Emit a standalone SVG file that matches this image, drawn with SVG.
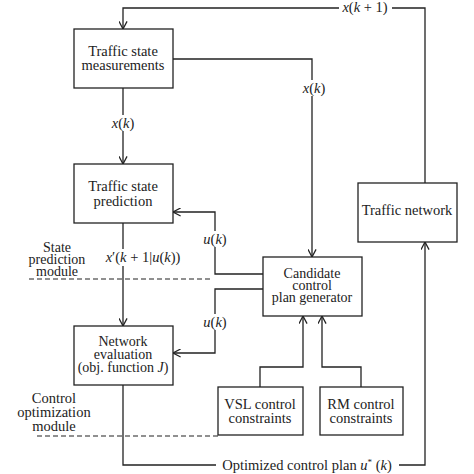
<svg xmlns="http://www.w3.org/2000/svg" width="474" height="474" viewBox="0 0 474 474">
<style>
.box{fill:#fff;stroke:#222;stroke-width:1.3}
.ln{fill:none;stroke:#222;stroke-width:1.3}
.dash{fill:none;stroke:#222;stroke-width:1.2;stroke-dasharray:5,3}
text{font-family:"Liberation Serif","Times New Roman",serif;font-size:14.5px;fill:#222;text-anchor:middle}
.t{font-size:14px}
.i{font-style:italic}
.lbl{fill:#fff}
</style>
<defs>
<marker id="ah" viewBox="0 0 10 10" refX="9.5" refY="5" markerWidth="9" markerHeight="9" markerUnits="userSpaceOnUse" orient="auto">
<path d="M1,0.5 L9.5,5 L1,9.5" fill="none" stroke="#222" stroke-width="1.4"/>
</marker>
</defs>
<rect width="474" height="474" fill="#fff"/>
<g id="connectors">
<path class="ln" d="M425,183 V8 H123 V29" marker-end="url(#ah)"/>
<path class="ln" d="M173,59 H312 V257" marker-end="url(#ah)"/>
<path class="ln" d="M123,88 V164" marker-end="url(#ah)"/>
<path class="ln" d="M123,223 V326" marker-end="url(#ah)"/>
<path class="ln" d="M263,274 H215 V212 H173" marker-end="url(#ah)"/>
<path class="ln" d="M263,289 H215 V353 H173" marker-end="url(#ah)"/>
<path class="ln" d="M260,387 V367 H303 V316" marker-end="url(#ah)"/>
<path class="ln" d="M361,387 V367 H322 V316" marker-end="url(#ah)"/>
<path class="ln" d="M123,385 V465 H425 V242" marker-end="url(#ah)"/>
<path class="dash" d="M29,279 H210"/>
<path class="dash" d="M37,436 H218"/>
<rect class="lbl" x="339" y="0" width="53" height="16"/>
<text x="365" y="12"><tspan class="i">x</tspan>(<tspan class="i">k</tspan> + 1)</text>
<rect class="lbl" x="300" y="80" width="26" height="16"/>
<text x="314" y="93"><tspan class="i">x</tspan>(<tspan class="i">k</tspan>)</text>
<rect class="lbl" x="109" y="115" width="28" height="16"/>
<text x="123" y="128"><tspan class="i">x</tspan>(<tspan class="i">k</tspan>)</text>
<rect class="lbl" x="100" y="249" width="88" height="17"/>
<text x="143" y="262"><tspan class="i">x</tspan>′(<tspan class="i">k</tspan> + 1|<tspan class="i">u</tspan>(<tspan class="i">k</tspan>))</text>
<rect class="lbl" x="201" y="231" width="28" height="16"/>
<text x="215" y="244"><tspan class="i">u</tspan>(<tspan class="i">k</tspan>)</text>
<rect class="lbl" x="201" y="314" width="28" height="16"/>
<text x="215" y="327"><tspan class="i">u</tspan>(<tspan class="i">k</tspan>)</text>
<rect class="lbl" x="216" y="456" width="183" height="17"/>
<text x="307" y="470">Optimized control plan <tspan class="i">u</tspan><tspan font-size="9" dy="-5">*</tspan><tspan dy="5"> (</tspan><tspan class="i">k</tspan>)</text>
</g>
<g id="n-measure">
<rect class="box" x="74" y="29" width="99" height="59"/>
<text x="123" y="56">Traffic state</text>
<text x="123" y="70">measurements</text>
</g>
<g id="n-predict">
<rect class="box" x="74" y="164" width="99" height="59"/>
<text x="123" y="191">Traffic state</text>
<text x="123" y="206">prediction</text>
</g>
<g id="n-network">
<rect class="box" x="358" y="183" width="99" height="59"/>
<text x="407" y="215">Traffic network</text>
</g>
<g id="n-candidate">
<rect class="box" x="263" y="257" width="99" height="59"/>
<text class="t" x="312" y="278">Candidate</text>
<text class="t" x="312" y="290">control</text>
<text class="t" x="312" y="302">plan generator</text>
</g>
<g id="n-eval">
<rect class="box" x="74" y="326" width="99" height="59"/>
<text class="t" x="123" y="346">Network</text>
<text class="t" x="123" y="359">evaluation</text>
<text class="t" x="123" y="372">(obj. function <tspan class="i">J</tspan>)</text>
</g>
<g id="n-vsl">
<rect class="box" x="218" y="387" width="85" height="48"/>
<text x="260" y="409">VSL control</text>
<text x="260" y="423">constraints</text>
</g>
<g id="n-rm">
<rect class="box" x="320" y="387" width="83" height="48"/>
<text x="361" y="409">RM control</text>
<text x="361" y="423">constraints</text>
</g>
<g id="lbl-state">
<text class="t" x="57" y="252">State</text>
<text class="t" x="57" y="264">prediction</text>
<text class="t" x="57" y="276">module</text>
</g>
<g id="lbl-control">
<text x="54" y="403">Control</text>
<text x="54" y="417">optimization</text>
<text x="54" y="431">module</text>
</g>
</svg>
